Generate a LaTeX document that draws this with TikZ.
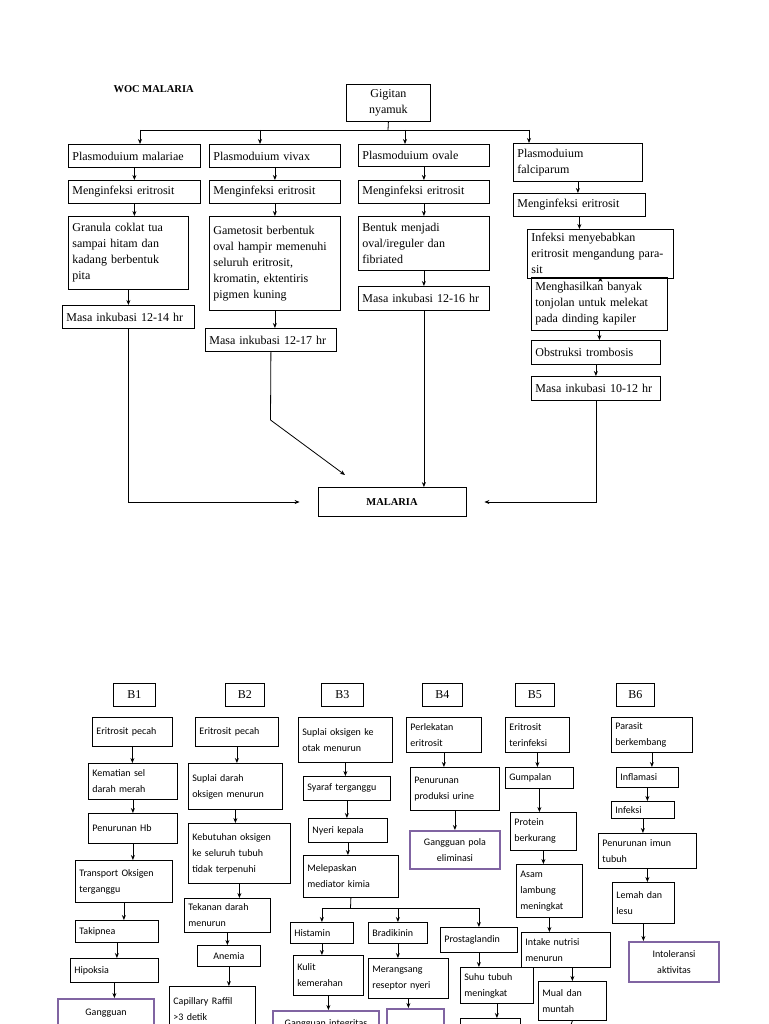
\documentclass[tikz,border=0pt]{standalone}
\usepackage{fontspec}
\setmainfont{Liberation Serif}
\newfontfamily\calfont{Carlito}
\usetikzlibrary{arrows.meta}
\tikzset{
 box/.style={draw,thick,inner sep=4pt,align=left,font=\fontsize{12}{16}\selectfont},
 bb/.style={draw,thick,inner sep=4pt,align=left,font=\calfont\fontsize{10}{16}\selectfont},
 pur/.style={draw=purp,line width=2pt,align=center},
 arr/.style={-{Stealth[length=5pt,width=4pt]},thick},
 ln/.style={thick}
}
\definecolor{purp}{RGB}{128,100,162}
\newcommand\bx[7][box]{\node[#1,anchor=north west,minimum width=\dimexpr #5pt-#3pt\relax,minimum height=\dimexpr #6pt-#4pt\relax,text width=\dimexpr #5pt-#3pt-8pt\relax] (#2) at (#3,#4) {#7};}
\newcommand\dn[2]{\draw[arr] (#1.south) -- (#1.south |- #2.north);}
\begin{document}
\begin{tikzpicture}[x=1pt,y=-1pt]
\useasboundingbox (0,0) rectangle (768,1024);
\node[anchor=west,font=\bfseries\fontsize{10.5}{12}\selectfont] (woc) at (110,89) {WOC MALARIA};
\bx[box,align=center]{g}{346}{84}{430}{121}{Gigitan\\nyamuk}
\coordinate (t) at (388,130);
\coordinate (t1) at (140,130); \coordinate (t2) at (260,130);
\coordinate (t3) at (405,130); \coordinate (t4) at (529,130);
\draw[ln] (g.south) -- (t); \draw[ln] (t1) -- (t4);
% col1
\bx{pm}{68}{144}{200}{167}{Plasmoduium malariae}
\bx{me1}{68}{180}{200}{203}{Menginfeksi eritrosit}
\bx{gr}{68}{216}{188}{289}{Granula coklat tua\\sampai hitam dan\\kadang berbentuk\\pita}
\bx{m1}{62}{305}{194}{328}{Masa inkubasi 12-14 hr}
% col2
\bx{pvx}{209}{144}{340}{167}{Plasmoduium vivax}
\bx{me2}{209}{180}{340}{203}{Menginfeksi eritrosit}
\bx{ga}{209}{216}{340}{310}{Gametosit berbentuk\\oval hampir memenuhi\\seluruh eritrosit,\\kromatin, ektentiris\\pigmen kuning}
\bx{m2}{205}{328}{336}{351}{Masa inkubasi 12-17 hr}
% col3
\bx{po}{358}{144}{489}{166}{Plasmoduium ovale}
\bx{me3}{358}{180}{489}{203}{Menginfeksi eritrosit}
\bx{be}{358}{216}{489}{270}{Bentuk menjadi\\oval/ireguler dan\\fibriated}
\bx{m3}{358}{286}{489}{310}{Masa inkubasi 12-16 hr}
% col4
\bx{pf}{513}{143}{642}{181}{Plasmoduium\\falciparum}
\bx{me4}{513}{193}{645}{216}{Menginfeksi eritrosit}
\bx{in}{527}{229}{673}{268}{Infeksi menyebabkan\\eritrosit mengandung parasit}
\bx{mh}{531}{277}{667}{330}{Menghasilkan banyak\\tonjolan untuk melekat\\pada dinding kapiler}
\bx{ob}{531}{340}{660}{364}{Obstruksi trombosis}
\bx{m4}{531}{376}{660}{400}{Masa inkubasi 10-12 hr}
\node[box,font=\bfseries\fontsize{10.5}{12}\selectfont,minimum width=148pt,minimum height=29pt,align=center] (mal) at (392,502) {MALARIA};
\draw[arr] (t1) -- (t1 |- pm.north);
\draw[arr] (t2) -- (t2 |- pvx.north);
\draw[arr] (t3) -- (t3 |- po.north);
\draw[arr] (t4) -- (t4 |- pf.north);
\dn{pm}{me1}\dn{me1}{gr}\dn{gr}{m1}
\dn{pvx}{me2}\dn{me2}{ga}\dn{ga}{m2}
\dn{po}{me3}\dn{me3}{be}\dn{be}{m3}
\dn{pf}{me4}\dn{me4}{in}\dn{in}{mh}\dn{mh}{ob}\dn{ob}{m4}
\coordinate (k2) at (270.5,420); \coordinate (k2e) at (345,475);
\draw[arr] (m1.south) -- (m1.south |- mal.west) -- ([xshift=-18pt]mal.west);
\draw[ln] (m2.south) -- (k2); \draw[arr] (k2) -- (k2e);
\draw[arr] (m3.south) -- (m3.south |- mal.north);
\draw[arr] (m4.south) -- (m4.south |- mal.east) -- ([xshift=18pt]mal.east);
% bottom headers
\bx[box,align=center]{B1}{113}{683}{155}{706}{B1}
\bx[box,align=center]{B2}{225}{683}{264}{706}{B2}
\bx[box,align=center]{B3}{321}{683}{363}{706}{B3}
\bx[box,align=center]{B4}{422}{683}{462}{706}{B4}
\bx[box,align=center]{B5}{515}{683}{554}{706}{B5}
\bx[box,align=center]{B6}{616}{683}{654}{706}{B6}
% B1
\bx[bb]{a1}{92}{717}{172}{746}{Eritrosit pecah}
\bx[bb]{a2}{88}{763}{177}{799}{Kematian sel\\darah merah}
\bx[bb]{a3}{88}{813}{177}{843}{Penurunan Hb}
\bx[bb]{a4}{75}{860}{172}{902}{Transport Oksigen\\terganggu}
\bx[bb]{a5}{75}{920}{158}{942}{Takipnea}
\bx[bb]{a6}{70}{958}{158}{982}{Hipoksia}
\node[bb,pur,anchor=north west,minimum width=96pt,minimum height=45pt,text width=88pt] (a7) at (57,998) {Gangguan\\pertukaran gas};
\dn{a1}{a2}\dn{a2}{a3}\dn{a3}{a4}\dn{a4}{a5}\dn{a5}{a6}\dn{a6}{a7}
% B2
\bx[bb]{b1}{195}{717}{278}{746}{Eritrosit pecah}
\bx[bb]{b2}{188}{763}{282}{809}{Suplai darah\\oksigen menurun}
\bx[bb]{b3}{188}{823}{290}{883}{Kebutuhan oksigen\\ke seluruh tubuh\\tidak terpenuhi}
\bx[bb]{b4}{184}{898}{270}{932}{Tekanan darah\\menurun}
\bx[bb,align=center]{b5}{197}{945}{260}{966}{Anemia}
\node[bb,anchor=north west,minimum width=86pt,minimum height=45pt,text width=78pt] (b6) at (169,986) {Capillary Raffil\\>3 detik\\[14pt]};
\dn{b1}{b2}\dn{b2}{b3}\dn{b3}{b4}\dn{b4}{b5}\dn{b5}{b6}
% B3
\bx[bb]{c1}{298}{717}{392}{762}{Suplai oksigen ke\\otak menurun}
\bx[bb]{c2}{303}{776}{390}{800}{Syaraf terganggu}
\bx[bb]{c3}{308}{818}{387}{842}{Nyeri kepala}
\bx[bb]{c4}{303}{855}{398}{897}{Melepaskan\\mediator kimia}
\bx[bb]{c5}{290}{922}{353}{943}{Histamin}
\bx[bb]{c6}{368}{922}{427}{943}{Bradikinin}
\bx[bb]{c7}{440}{927}{517}{952}{Prostaglandin}
\bx[bb]{c8}{293}{955}{363}{995}{Kulit\\kemerahan}
\bx[bb]{c9}{368}{958}{448}{998}{Merangsang\\reseptor nyeri}
\node[bb,pur,anchor=north west,minimum width=106pt,minimum height=40pt,text width=98pt] (c10) at (272,1010) {Gangguan integritas\\kulit};
\node[pur,anchor=north west,minimum width=57pt,minimum height=40pt] (c11) at (386,1008) {};
\bx[bb]{c12}{460}{967}{533}{1003}{Suhu tubuh\\meningkat}
\node[draw,thick,anchor=north west,minimum width=60pt,minimum height=40pt] (c13) at (460,1018) {};
\coordinate (br) at (350.5,908);
\dn{c1}{c2}\dn{c2}{c3}\dn{c3}{c4}
\draw[ln] (c4.south) -- (br);
\draw[ln] (c5.north |- br) -- (c7.north |- br);
\draw[arr] (c5.north |- br) -- (c5.north);
\draw[arr] (c6.north |- br) -- (c6.north);
\draw[arr] (c7.north |- br) -- (c7.north);
\dn{c5}{c8}\dn{c6}{c9}\dn{c8}{c10}\dn{c9}{c11}\dn{c7}{c12}\dn{c12}{c13}
% B4
\bx[bb]{d1}{406}{717}{481}{752}{Perlekatan\\eritrosit}
\bx[bb]{d2}{410}{767}{499}{810}{Penurunan\\produksi urine}
\node[bb,pur,anchor=north west,minimum width=90pt,minimum height=38pt,text width=82pt] (d3) at (409,830) {Gangguan pola\\eliminasi};
\dn{d1}{d2}\dn{d2}{d3}
% B5
\bx[bb]{e1}{505}{717}{569}{752}{Eritrosit\\terinfeksi}
\bx[bb]{e2}{505}{767}{573}{788}{Gumpalan}
\bx[bb]{e3}{510}{812}{576}{850}{Protein\\berkurang}
\bx[bb]{e4}{516}{864}{582}{917}{Asam\\lambung\\meningkat}
\bx[bb]{e5}{521}{932}{610}{967}{Intake nutrisi\\menurun}
\bx[bb]{e6}{538}{981}{606}{1020}{Mual dan\\muntah}
\coordinate (e7) at (569,1030);
\dn{e1}{e2}\dn{e2}{e3}\dn{e3}{e4}\dn{e4}{e5}
\draw[arr] (e5.south -| e6.north) -- (e6.north);
\draw[ln] (e6.south) -- (e7);
% B6
\bx[bb]{f1}{611}{717}{692}{752}{Parasit\\berkembang}
\bx[bb]{f2}{616}{767}{678}{787}{Inflamasi}
\bx[bb]{f3}{611}{801}{674}{818}{Infeksi}
\bx[bb]{f4}{598}{833}{696}{868}{Penurunan imun\\tubuh}
\bx[bb]{f5}{612}{882}{674}{923}{Lemah dan\\lesu}
\node[bb,pur,anchor=north west,minimum width=90pt,minimum height=40pt,text width=82pt] (f6) at (628,941) {Intoleransi\\aktivitas};
\dn{f1}{f2}\dn{f2}{f3}\dn{f3}{f4}\dn{f4}{f5}\dn{f5}{f6}
\end{tikzpicture}
\end{document}
